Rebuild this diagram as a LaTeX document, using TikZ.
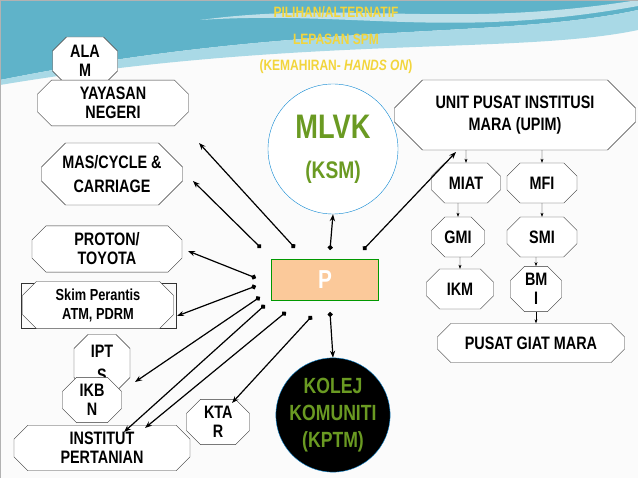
\documentclass[tikz,border=0pt]{standalone}
\usepackage{fontspec}
\setmainfont{Liberation Sans}[FakeStretch=0.8]
\usetikzlibrary{shapes.misc,arrows.meta}
\definecolor{wave}{HTML}{5FB3C9}
\definecolor{wavelight}{HTML}{A9D9E6}
\definecolor{titley}{HTML}{F2D53C}
\definecolor{pfill}{HTML}{FBC99A}
\definecolor{kgreen}{HTML}{6A9A22}
\tikzset{
  oct/.style={chamfered rectangle,chamfered rectangle xsep=7pt,chamfered rectangle ysep=7pt,
    draw=black!80,fill=white,align=center,inner sep=0pt,font=\bfseries\fontsize{18}{19}\selectfont},
  arr/.style={{Circle[length=5pt]}-{Stealth[length=7pt]},line width=1.2pt},
  sarr/.style={-{Stealth[length=4pt]},thin},
  title/.style={text=titley,font=\bfseries\fontsize{15}{16}\selectfont}
}
\begin{document}
\begin{tikzpicture}[x=1pt,y=-1pt]
\useasboundingbox (0,0) rectangle (638,478);
\fill[white!97!gray] (0,0) rectangle (638,478);
% background waves
\fill[wave] (0,0) -- (638,0) -- (638,10) .. controls (500,40) and (300,20) .. (0,80) -- cycle;
\fill[wavelight] (0,80) .. controls (300,20) and (500,40) .. (638,10) -- (638,30) .. controls (520,55) and (300,35) .. (0,85) -- cycle;
\fill[white,opacity=0.6] (200,20) .. controls (350,0) and (450,30) .. (638,0) -- (638,6) .. controls (450,40) and (350,10) .. (200,20);
\draw[gray!60] (0,0) rectangle (638,478);
% title
\node[title] (t1) at (336,12) {PILIHAN/ALTERNATIF};
\node[title] (t2) at (336,39) {LEPASAN SPM};
\node[title] (t3) at (336,67) {(KEMAHIRAN- \textit{HANDS ON})};
% left column
\node[oct,minimum width=65pt,minimum height=48pt,text width=30pt] (alam) at (85,61) {ALA\\M};
\node[oct,minimum width=151pt,minimum height=38pt] (yayasan) at (113,103) {YAYASAN\\NEGERI};
\node[oct,minimum width=141pt,minimum height=62pt,chamfered rectangle xsep=12pt,chamfered rectangle ysep=12pt,font=\bfseries\fontsize{18}{24}\selectfont] (mas) at (112,174) {MAS/CYCLE \&\\CARRIAGE};
\node[oct,minimum width=150pt,minimum height=46pt] (proton) at (107,249) {PROTON/\\TOYOTA};
\draw[black!80] (21,283) rectangle (176,328);
\node[oct,minimum width=151pt,minimum height=39pt,font=\bfseries\fontsize{16}{19}\selectfont] (skim) at (98,305) {Skim Perantis\\ATM, PDRM};
\node[oct,minimum width=56pt,minimum height=57pt,text width=28pt,font=\bfseries\fontsize{18}{24}\selectfont] (ipts) at (102,363) {IPT\\S};
\node[oct,minimum width=59pt,minimum height=40pt,text width=28pt] (ikbn) at (92,400) {IKB\\N};
\node[oct,minimum width=176pt,minimum height=37pt] (institut) at (102,448) {INSTITUT\\PERTANIAN};
\node[oct,minimum width=63pt,minimum height=40pt,text width=28pt] (ktar) at (218,422) {KTA\\R};
% centre
\node[circle,draw=cyan!70!blue,fill=white,minimum size=130pt,inner sep=0pt,align=center,text=kgreen,
  font=\bfseries\fontsize{34}{40}\selectfont] (mlvk) at (333,149) {MLVK\\{\fontsize{24}{28}\selectfont(KSM)}};
\node[draw=green!60!black,fill=pfill,minimum width=107pt,minimum height=41pt,text=white,
  font=\bfseries\fontsize{26}{28}\selectfont] (p) at (325,280) {P};
\node[circle,draw=cyan!70!blue,fill=black,minimum size=114pt,inner sep=0pt,align=center,text=kgreen,
  font=\bfseries\fontsize{22}{27}\selectfont] (kolej) at (333,415) {KOLEJ\\KOMUNITI\\(KPTM)};
% right column
\node[oct,minimum width=241pt,minimum height=70pt,chamfered rectangle xsep=14pt,chamfered rectangle ysep=14pt,font=\bfseries\fontsize{18}{22}\selectfont] (upim) at (515,115) {UNIT PUSAT INSTITUSI\\MARA (UPIM)};
\node[oct,minimum width=69pt,minimum height=40pt] (miat) at (466,183) {MIAT};
\node[oct,minimum width=70pt,minimum height=40pt] (mfi) at (542,183) {MFI};
\node[oct,minimum width=53pt,minimum height=40pt] (gmi) at (458,237) {GMI};
\node[oct,minimum width=70pt,minimum height=40pt] (smi) at (542,237) {SMI};
\node[oct,minimum width=67pt,minimum height=40pt] (ikm) at (460,289) {IKM};
\node[oct,minimum width=51pt,minimum height=40pt,text width=22pt] (bmi) at (536,289) {BM\\I};
\node[oct,minimum width=187pt,minimum height=39pt] (pgm) at (531,343) {PUSAT GIAT MARA};
% arrow starts
\coordinate (s1) at (295,248);
\coordinate (s2) at (261,248);
\coordinate (s3) at (256,278);
\coordinate (s4) at (256,286);
\coordinate (s5) at (260,297);
\coordinate (s6) at (265,305);
\coordinate (s7) at (286,312);
\coordinate (s8) at (312,316);
\coordinate (s9) at (330,312);
\coordinate (s10) at (330,250);
\coordinate (s11) at (363,250);
\draw[arr] (s1) -- (199,143);
\draw[arr] (s2) -- (193,181);
\draw[arr] (s3) -- (188,251);
\draw[arr] (s4) -- (177,316);
\draw[arr] (s5) -- (135,382);
\draw[arr] (s6) -- (124,432);
\draw[arr] (s7) -- (145,428);
\draw[arr] (s8) -- (232,403);
\draw[arr] (s9) -- (kolej.north);
\draw[arr] (s10) -- (mlvk.south);
\draw[arr] (s11) -- (456,152);
% right chain
\draw[sarr] (upim.south -| miat) -- (miat);
\draw[sarr] (upim.south -| mfi) -- (mfi);
\draw[sarr] (miat.south -| gmi) -- (gmi);
\draw[sarr] (mfi) -- (smi);
\draw[sarr] (gmi.south -| ikm) -- (ikm);
\draw[sarr] (smi.south -| bmi) -- (bmi);
\draw[sarr] (bmi.south) -- (pgm.north -| bmi);
\end{tikzpicture}
\end{document}
